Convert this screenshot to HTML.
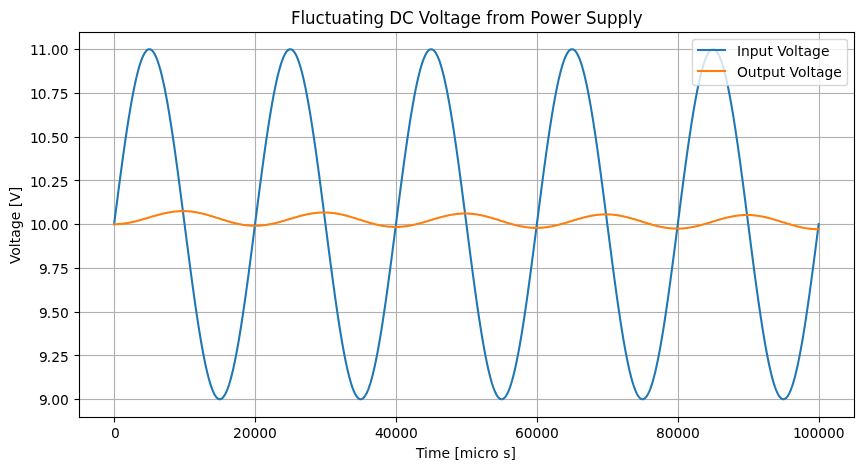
<!DOCTYPE html>
<html lang="en">
<head>
<meta charset="utf-8">
<title>Fluctuating DC Voltage from Power Supply</title>
<style>
html,body{margin:0;padding:0;background:#fff;overflow:hidden}
svg{display:block}
text{font-family:"DejaVu Sans","Liberation Sans",sans-serif;fill:#000;white-space:pre}
.d{fill:none;stroke-width:2.0833;stroke-linejoin:round;stroke-linecap:square}
</style>
</head>
<body>
<svg width="863" height="470" viewBox="0 0 863 470">
<rect width="863" height="470" fill="#fff"/>
<defs><clipPath id="c"><rect x="78.903" y="31.722" width="775" height="385"/></clipPath></defs>
<g fill="#b0b0b0">
<rect x="113" y="32.5" width="1" height="385" fill-opacity="0.06"/><rect x="115" y="32.5" width="1" height="385" fill-opacity="0.06"/><rect x="114" y="32.5" width="1" height="385"/>
<rect x="254" y="32.5" width="1" height="385" fill-opacity="0.06"/><rect x="256" y="32.5" width="1" height="385" fill-opacity="0.06"/><rect x="255" y="32.5" width="1" height="385"/>
<rect x="395" y="32.5" width="1" height="385" fill-opacity="0.06"/><rect x="397" y="32.5" width="1" height="385" fill-opacity="0.06"/><rect x="396" y="32.5" width="1" height="385"/>
<rect x="536" y="32.5" width="1" height="385" fill-opacity="0.06"/><rect x="538" y="32.5" width="1" height="385" fill-opacity="0.06"/><rect x="537" y="32.5" width="1" height="385"/>
<rect x="677" y="32.5" width="1" height="385" fill-opacity="0.06"/><rect x="679" y="32.5" width="1" height="385" fill-opacity="0.06"/><rect x="678" y="32.5" width="1" height="385"/>
<rect x="818" y="32.5" width="1" height="385" fill-opacity="0.06"/><rect x="820" y="32.5" width="1" height="385" fill-opacity="0.06"/><rect x="819" y="32.5" width="1" height="385"/>
</g>
<g fill="#000">
<rect x="113" y="417.5" width="1" height="5" fill-opacity="0.0556"/><rect x="115" y="417.5" width="1" height="5" fill-opacity="0.0556"/><rect x="114" y="417.5" width="1" height="5"/>
<rect x="254" y="417.5" width="1" height="5" fill-opacity="0.0556"/><rect x="256" y="417.5" width="1" height="5" fill-opacity="0.0556"/><rect x="255" y="417.5" width="1" height="5"/>
<rect x="395" y="417.5" width="1" height="5" fill-opacity="0.0556"/><rect x="397" y="417.5" width="1" height="5" fill-opacity="0.0556"/><rect x="396" y="417.5" width="1" height="5"/>
<rect x="536" y="417.5" width="1" height="5" fill-opacity="0.0556"/><rect x="538" y="417.5" width="1" height="5" fill-opacity="0.0556"/><rect x="537" y="417.5" width="1" height="5"/>
<rect x="677" y="417.5" width="1" height="5" fill-opacity="0.0556"/><rect x="679" y="417.5" width="1" height="5" fill-opacity="0.0556"/><rect x="678" y="417.5" width="1" height="5"/>
<rect x="818" y="417.5" width="1" height="5" fill-opacity="0.0556"/><rect x="820" y="417.5" width="1" height="5" fill-opacity="0.0556"/><rect x="819" y="417.5" width="1" height="5"/>
</g>
<g fill="#b0b0b0">
<rect x="79.5" y="398" width="775" height="1" fill-opacity="0.06"/><rect x="79.5" y="400" width="775" height="1" fill-opacity="0.06"/><rect x="79.5" y="399" width="775" height="1"/>
<rect x="79.5" y="354" width="775" height="1" fill-opacity="0.06"/><rect x="79.5" y="356" width="775" height="1" fill-opacity="0.06"/><rect x="79.5" y="355" width="775" height="1"/>
<rect x="79.5" y="311" width="775" height="1" fill-opacity="0.06"/><rect x="79.5" y="313" width="775" height="1" fill-opacity="0.06"/><rect x="79.5" y="312" width="775" height="1"/>
<rect x="79.5" y="267" width="775" height="1" fill-opacity="0.06"/><rect x="79.5" y="269" width="775" height="1" fill-opacity="0.06"/><rect x="79.5" y="268" width="775" height="1"/>
<rect x="79.5" y="223" width="775" height="1" fill-opacity="0.06"/><rect x="79.5" y="225" width="775" height="1" fill-opacity="0.06"/><rect x="79.5" y="224" width="775" height="1"/>
<rect x="79.5" y="179" width="775" height="1" fill-opacity="0.06"/><rect x="79.5" y="181" width="775" height="1" fill-opacity="0.06"/><rect x="79.5" y="180" width="775" height="1"/>
<rect x="79.5" y="136" width="775" height="1" fill-opacity="0.06"/><rect x="79.5" y="138" width="775" height="1" fill-opacity="0.06"/><rect x="79.5" y="137" width="775" height="1"/>
<rect x="79.5" y="92" width="775" height="1" fill-opacity="0.06"/><rect x="79.5" y="94" width="775" height="1" fill-opacity="0.06"/><rect x="79.5" y="93" width="775" height="1"/>
<rect x="79.5" y="48" width="775" height="1" fill-opacity="0.06"/><rect x="79.5" y="50" width="775" height="1" fill-opacity="0.06"/><rect x="79.5" y="49" width="775" height="1"/>
</g>
<g fill="#000">
<rect x="74.5" y="398" width="5" height="1" fill-opacity="0.0556"/><rect x="74.5" y="400" width="5" height="1" fill-opacity="0.0556"/><rect x="74.5" y="399" width="5" height="1"/>
<rect x="74.5" y="354" width="5" height="1" fill-opacity="0.0556"/><rect x="74.5" y="356" width="5" height="1" fill-opacity="0.0556"/><rect x="74.5" y="355" width="5" height="1"/>
<rect x="74.5" y="311" width="5" height="1" fill-opacity="0.0556"/><rect x="74.5" y="313" width="5" height="1" fill-opacity="0.0556"/><rect x="74.5" y="312" width="5" height="1"/>
<rect x="74.5" y="267" width="5" height="1" fill-opacity="0.0556"/><rect x="74.5" y="269" width="5" height="1" fill-opacity="0.0556"/><rect x="74.5" y="268" width="5" height="1"/>
<rect x="74.5" y="223" width="5" height="1" fill-opacity="0.0556"/><rect x="74.5" y="225" width="5" height="1" fill-opacity="0.0556"/><rect x="74.5" y="224" width="5" height="1"/>
<rect x="74.5" y="179" width="5" height="1" fill-opacity="0.0556"/><rect x="74.5" y="181" width="5" height="1" fill-opacity="0.0556"/><rect x="74.5" y="180" width="5" height="1"/>
<rect x="74.5" y="136" width="5" height="1" fill-opacity="0.0556"/><rect x="74.5" y="138" width="5" height="1" fill-opacity="0.0556"/><rect x="74.5" y="137" width="5" height="1"/>
<rect x="74.5" y="92" width="5" height="1" fill-opacity="0.0556"/><rect x="74.5" y="94" width="5" height="1" fill-opacity="0.0556"/><rect x="74.5" y="93" width="5" height="1"/>
<rect x="74.5" y="48" width="5" height="1" fill-opacity="0.0556"/><rect x="74.5" y="50" width="5" height="1" fill-opacity="0.0556"/><rect x="74.5" y="49" width="5" height="1"/>
</g>
<g class="d" clip-path="url(#c)">
<path stroke="#1f77b4" d="M114.13 224.22L114.84 218.72L115.54 213.22L116.25 207.74L116.95 202.27L117.66 196.82L118.36 191.4L119.07 186.01L119.77 180.66L120.48 175.35L121.18 170.09L121.89 164.89L122.59 159.74L123.3 154.66L124 149.64L124.71 144.7L125.41 139.84L126.12 135.06L126.82 130.37L127.53 125.77L128.24 121.27L128.94 116.87L129.65 112.58L130.35 108.4L131.06 104.33L131.76 100.38L132.47 96.55L133.17 92.85L133.88 89.28L134.58 85.85L135.29 82.55L135.99 79.39L136.7 76.37L137.4 73.5L138.11 70.78L138.81 68.21L139.52 65.79L140.22 63.53L140.93 61.43L141.63 59.5L142.34 57.72L143.05 56.11L143.75 54.66L144.46 53.39L145.16 52.28L145.87 51.34L146.57 50.57L147.28 49.97L147.98 49.55L148.69 49.3L149.39 49.22L150.1 49.32L150.8 49.59L151.51 50.03L152.21 50.64L152.92 51.42L153.62 52.38L154.33 53.51L155.03 54.8L155.74 56.26L156.45 57.89L157.15 59.68L157.86 61.64L158.56 63.75L159.27 66.03L159.97 68.46L160.68 71.04L161.38 73.78L162.09 76.67L162.79 79.7L163.5 82.87L164.2 86.18L164.91 89.64L165.61 93.22L166.32 96.93L167.02 100.77L167.73 104.73L168.43 108.81L169.14 113L169.84 117.31L170.55 121.72L171.26 126.23L171.96 130.83L172.67 135.53L173.37 140.32L174.08 145.19L174.78 150.14L175.49 155.16L176.19 160.25L176.9 165.4L177.6 170.62L178.31 175.88L179.01 181.19L179.72 186.55L180.42 191.94L181.13 197.36L181.83 202.81L182.54 208.28L183.24 213.77L183.95 219.27L184.66 224.77L185.36 230.27L186.07 235.77L186.77 241.26L187.48 246.72L188.18 252.17L188.89 257.59L189.59 262.97L190.3 268.32L191 273.62L191.71 278.88L192.41 284.08L193.12 289.22L193.82 294.29L194.53 299.3L195.23 304.23L195.94 309.09L196.64 313.86L197.35 318.54L198.05 323.13L198.76 327.62L199.47 332.01L200.17 336.29L200.88 340.46L201.58 344.51L202.29 348.45L202.99 352.27L203.7 355.95L204.4 359.51L205.11 362.93L205.81 366.22L206.52 369.37L207.22 372.37L207.93 375.22L208.63 377.93L209.34 380.48L210.04 382.88L210.75 385.13L211.45 387.21L212.16 389.13L212.87 390.89L213.57 392.49L214.28 393.92L214.98 395.18L215.69 396.27L216.39 397.19L217.1 397.94L217.8 398.52L218.51 398.93L219.21 399.16L219.92 399.22L220.62 399.11L221.33 398.82L222.03 398.36L222.74 397.73L223.44 396.93L224.15 395.96L224.85 394.82L225.56 393.51L226.26 392.03L226.97 390.38L227.68 388.57L228.38 386.6L229.09 384.47L229.79 382.18L230.5 379.73L231.2 377.13L231.91 374.38L232.61 371.48L233.32 368.44L234.02 365.25L234.73 361.92L235.43 358.46L236.14 354.86L236.84 351.13L237.55 347.28L238.25 343.31L238.96 339.22L239.66 335.02L240.37 330.7L241.08 326.28L241.78 321.76L242.49 317.14L243.19 312.44L243.9 307.64L244.6 302.76L245.31 297.81L246.01 292.78L246.72 287.68L247.42 282.52L248.13 277.3L248.83 272.04L249.54 266.72L250.24 261.36L250.95 255.96L251.65 250.54L252.36 245.09L253.06 239.61L253.77 234.12L254.47 228.62L255.18 223.12L255.89 217.62L256.59 212.12L257.3 206.64L258 201.18L258.71 195.73L259.41 190.32L260.12 184.94L260.82 179.59L261.53 174.3L262.23 169.05L262.94 163.85L263.64 158.72L264.35 153.65L265.05 148.65L265.76 143.72L266.46 138.88L267.17 134.11L267.87 129.44L268.58 124.86L269.29 120.38L269.99 116L270.7 111.73L271.4 107.57L272.11 103.53L272.81 99.61L273.52 95.8L274.22 92.13L274.93 88.59L275.63 85.18L276.34 81.9L277.04 78.77L277.75 75.78L278.45 72.94L279.16 70.25L279.86 67.71L280.57 65.33L281.27 63.1L281.98 61.03L282.68 59.13L283.39 57.38L284.1 55.81L284.8 54.39L285.51 53.15L286.21 52.08L286.92 51.17L287.62 50.44L288.33 49.88L289.03 49.49L289.74 49.27L290.44 49.23L291.15 49.36L291.85 49.66L292.56 50.14L293.26 50.78L293.97 51.6L294.67 52.59L295.38 53.75L296.08 55.08L296.79 56.57L297.5 58.23L298.2 60.06L298.91 62.05L299.61 64.2L300.32 66.5L301.02 68.96L301.73 71.58L302.43 74.35L303.14 77.26L303.84 80.32L304.55 83.52L305.25 86.86L305.96 90.34L306.66 93.95L307.37 97.69L308.07 101.55L308.78 105.54L309.48 109.64L310.19 113.86L310.89 118.18L311.6 122.61L312.31 127.14L313.01 131.77L313.72 136.48L314.42 141.29L315.13 146.17L315.83 151.14L316.54 156.17L317.24 161.28L317.95 166.44L318.65 171.66L319.36 176.94L320.06 182.26L320.77 187.62L321.47 193.02L322.18 198.45L322.88 203.91L323.59 209.38L324.29 214.87L325 220.37L325.71 225.87L326.41 231.37L327.12 236.87L327.82 242.35L328.53 247.81L329.23 253.25L329.94 258.67L330.64 264.04L331.35 269.38L332.05 274.68L332.76 279.92L333.46 285.11L334.17 290.24L334.87 295.3L335.58 300.29L336.28 305.21L336.99 310.05L337.69 314.8L338.4 319.46L339.11 324.03L339.81 328.5L340.52 332.87L341.22 337.13L341.93 341.28L342.63 345.31L343.34 349.22L344.04 353.01L344.75 356.67L345.45 360.21L346.16 363.6L346.86 366.86L347.57 369.98L348.27 372.95L348.98 375.78L349.68 378.45L350.39 380.98L351.09 383.35L351.8 385.56L352.5 387.61L353.21 389.5L353.92 391.23L354.62 392.79L355.33 394.18L356.03 395.41L356.74 396.47L357.44 397.35L358.15 398.07L358.85 398.62L359.56 398.99L360.26 399.19L360.97 399.21L361.67 399.06L362.38 398.74L363.08 398.25L363.79 397.59L364.49 396.75L365.2 395.74L365.9 394.57L366.61 393.22L367.32 391.71L368.02 390.03L368.73 388.19L369.43 386.19L370.14 384.03L370.84 381.7L371.55 379.23L372.25 376.6L372.96 373.81L373.66 370.88L374.37 367.81L375.07 364.59L375.78 361.24L376.48 357.75L377.19 354.13L377.89 350.37L378.6 346.5L379.3 342.5L380.01 338.39L380.71 334.16L381.42 329.83L382.13 325.39L382.83 320.85L383.54 316.21L384.24 311.48L384.95 306.67L385.65 301.78L386.36 296.81L387.06 291.76L387.77 286.65L388.47 281.48L389.18 276.26L389.88 270.98L390.59 265.65L391.29 260.28L392 254.88L392.7 249.45L393.41 243.99L394.11 238.51L394.82 233.02L395.53 227.52L396.23 222.02L396.94 216.52L397.64 211.03L398.35 205.55L399.05 200.08L399.76 194.65L400.46 189.24L401.17 183.86L401.87 178.53L402.58 173.24L403.28 168L403.99 162.82L404.69 157.7L405.4 152.64L406.1 147.66L406.81 142.75L407.51 137.92L408.22 133.17L408.92 128.52L409.63 123.96L410.34 119.5L411.04 115.14L411.75 110.89L412.45 106.76L413.16 102.74L413.86 98.84L414.57 95.06L415.27 91.41L415.98 87.89L416.68 84.51L417.39 81.27L418.09 78.16L418.8 75.2L419.5 72.39L420.21 69.73L420.91 67.22L421.62 64.87L422.32 62.68L423.03 60.64L423.74 58.77L424.44 57.05L425.15 55.51L425.85 54.13L426.56 52.92L427.26 51.88L427.97 51.01L428.67 50.31L429.38 49.78L430.08 49.43L430.79 49.25L431.49 49.24L432.2 49.4L432.9 49.74L433.61 50.25L434.31 50.93L435.02 51.79L435.72 52.81L436.43 54L437.13 55.36L437.84 56.89L438.55 58.59L439.25 60.44L439.96 62.46L440.66 64.64L441.37 66.98L442.07 69.47L442.78 72.12L443.48 74.92L444.19 77.86L444.89 80.95L445.6 84.18L446.3 87.55L447.01 91.05L447.71 94.69L448.42 98.45L449.12 102.34L449.83 106.35L450.53 110.47L451.24 114.71L451.95 119.06L452.65 123.51L453.36 128.06L454.06 132.7L454.77 137.44L455.47 142.26L456.18 147.16L456.88 152.14L457.59 157.19L458.29 162.3L459 167.48L459.7 172.72L460.41 178L461.11 183.33L461.82 188.7L462.52 194.1L463.23 199.54L463.93 205L464.64 210.48L465.34 215.97L466.05 221.47L466.76 226.97L467.46 232.47L468.17 237.97L468.87 243.44L469.58 248.9L470.28 254.34L470.99 259.75L471.69 265.12L472.4 270.45L473.1 275.73L473.81 280.96L474.51 286.14L475.22 291.26L475.92 296.31L476.63 301.28L477.33 306.19L478.04 311.01L478.74 315.74L479.45 320.39L480.16 324.94L480.86 329.39L481.57 333.73L482.27 337.97L482.98 342.1L483.68 346.1L484.39 349.99L485.09 353.76L485.8 357.39L486.5 360.9L487.21 364.26L487.91 367.5L488.62 370.58L489.32 373.53L490.03 376.32L490.73 378.97L491.44 381.46L492.14 383.8L492.85 385.98L493.55 388L494.26 389.86L494.97 391.55L495.67 393.08L496.38 394.44L497.08 395.63L497.79 396.66L498.49 397.51L499.2 398.19L499.9 398.7L500.61 399.04L501.31 399.2L502.02 399.2L502.72 399.01L503.43 398.66L504.13 398.13L504.84 397.43L505.54 396.56L506.25 395.52L506.95 394.31L507.66 392.93L508.37 391.39L509.07 389.68L509.78 387.81L510.48 385.77L511.19 383.57L511.89 381.22L512.6 378.71L513.3 376.05L514.01 373.24L514.71 370.28L515.42 367.18L516.12 363.93L516.83 360.55L517.53 357.03L518.24 353.39L518.94 349.61L519.65 345.71L520.35 341.69L521.06 337.55L521.76 333.3L522.47 328.95L523.18 324.49L523.88 319.93L524.59 315.27L525.29 310.53L526 305.7L526.7 300.79L527.41 295.8L528.11 290.75L528.82 285.62L529.52 280.44L530.23 275.2L530.93 269.91L531.64 264.58L532.34 259.21L533.05 253.8L533.75 248.36L534.46 242.9L535.16 237.42L535.87 231.92L536.58 226.42L537.28 220.92L537.99 215.42L538.69 209.93L539.4 204.45L540.1 199L540.81 193.56L541.51 188.16L542.22 182.79L542.92 177.47L543.63 172.19L544.33 166.96L545.04 161.79L545.74 156.68L546.45 151.64L547.15 146.67L547.86 141.77L548.56 136.96L549.27 132.23L549.97 127.6L550.68 123.06L551.39 118.62L552.09 114.28L552.8 110.06L553.5 105.94L554.21 101.95L554.91 98.07L555.62 94.32L556.32 90.7L557.03 87.21L557.73 83.85L558.44 80.63L559.14 77.56L559.85 74.63L560.55 71.85L561.26 69.22L561.96 66.74L562.67 64.42L563.37 62.26L564.08 60.25L564.79 58.41L565.49 56.73L566.2 55.22L566.9 53.88L567.61 52.7L568.31 51.69L569.02 50.86L569.72 50.19L570.43 49.7L571.13 49.38L571.84 49.23L572.54 49.26L573.25 49.46L573.95 49.83L574.66 50.37L575.36 51.09L576.07 51.98L576.77 53.03L577.48 54.26L578.19 55.66L578.89 57.22L579.6 58.95L580.3 60.84L581.01 62.89L581.71 65.1L582.42 67.47L583.12 69.99L583.83 72.67L584.53 75.49L585.24 78.47L585.94 81.58L586.65 84.84L587.35 88.24L588.06 91.77L588.76 95.43L589.47 99.22L590.17 103.13L590.88 107.17L591.58 111.31L592.29 115.57L593 119.94L593.7 124.41L594.41 128.98L595.11 133.64L595.82 138.4L596.52 143.23L597.23 148.15L597.93 153.14L598.64 158.21L599.34 163.34L600.05 168.52L600.75 173.77L601.46 179.06L602.16 184.4L602.87 189.78L603.57 195.19L604.28 200.63L604.98 206.09L605.69 211.58L606.4 217.07L607.1 222.57L607.81 228.07L608.51 233.57L609.22 239.06L609.92 244.54L610.63 249.99L611.33 255.42L612.04 260.82L612.74 266.18L613.45 271.51L614.15 276.78L614.86 282L615.56 287.17L616.27 292.27L616.97 297.31L617.68 302.27L618.38 307.16L619.09 311.96L619.79 316.68L620.5 321.3L621.21 325.83L621.91 330.26L622.62 334.59L623.32 338.8L624.03 342.91L624.73 346.89L625.44 350.75L626.14 354.49L626.85 358.1L627.55 361.58L628.26 364.92L628.96 368.12L629.67 371.18L630.37 374.1L631.08 376.87L631.78 379.48L632.49 381.94L633.19 384.25L633.9 386.4L634.61 388.38L635.31 390.21L636.02 391.87L636.72 393.37L637.43 394.69L638.13 395.85L638.84 396.84L639.54 397.66L640.25 398.31L640.95 398.78L641.66 399.09L642.36 399.22L643.07 399.17L643.77 398.96L644.48 398.57L645.18 398.01L645.89 397.27L646.59 396.37L647.3 395.29L648 394.05L648.71 392.64L649.42 391.06L650.12 389.32L650.83 387.41L651.53 385.34L652.24 383.12L652.94 380.73L653.65 378.19L654.35 375.5L655.06 372.66L655.76 369.67L656.47 366.54L657.17 363.27L657.88 359.86L658.58 356.31L659.29 352.64L659.99 348.84L660.7 344.91L661.4 340.87L662.11 336.71L662.82 332.44L663.52 328.06L664.23 323.58L664.93 319L665.64 314.33L666.34 309.57L667.05 304.72L667.75 299.8L668.46 294.8L669.16 289.73L669.87 284.59L670.57 279.4L671.28 274.15L671.98 268.85L672.69 263.51L673.39 258.13L674.1 252.71L674.8 247.27L675.51 241.8L676.21 236.32L676.92 230.82L677.63 225.32L678.33 219.82L679.04 214.32L679.74 208.83L680.45 203.36L681.15 197.91L681.86 192.48L682.56 187.08L683.27 181.73L683.97 176.41L684.68 171.14L685.38 165.92L686.09 160.76L686.79 155.67L687.5 150.64L688.2 145.68L688.91 140.8L689.61 136.01L690.32 131.3L691.03 126.68L691.73 122.16L692.44 117.74L693.14 113.43L693.85 109.22L694.55 105.13L695.26 101.16L695.96 97.31L696.67 93.58L697.37 89.99L698.08 86.52L698.78 83.2L699.49 80.01L700.19 76.96L700.9 74.06L701.6 71.31L702.31 68.71L703.01 66.26L703.72 63.97L704.42 61.84L705.13 59.87L705.84 58.06L706.54 56.42L707.25 54.94L707.95 53.63L708.66 52.48L709.36 51.51L710.07 50.71L710.77 50.08L711.48 49.62L712.18 49.34L712.89 49.22L713.59 49.28L714.3 49.52L715 49.92L715.71 50.5L716.41 51.25L717.12 52.18L717.82 53.27L718.53 54.53L719.24 55.96L719.94 57.55L720.65 59.31L721.35 61.23L722.06 63.32L722.76 65.56L723.47 67.96L724.17 70.51L724.88 73.22L725.58 76.08L726.29 79.08L726.99 82.22L727.7 85.51L728.4 88.93L729.11 92.49L729.81 96.18L730.52 99.99L731.22 103.93L731.93 107.99L732.63 112.16L733.34 116.44L734.05 120.83L734.75 125.32L735.46 129.9L736.16 134.59L736.87 139.36L737.57 144.21L738.28 149.14L738.98 154.15L739.69 159.23L740.39 164.37L741.1 169.57L741.8 174.82L742.51 180.13L743.21 185.47L743.92 190.86L744.62 196.28L745.33 201.72L746.03 207.19L746.74 212.67L747.45 218.17L748.15 223.67L748.86 229.17L749.56 234.67L750.27 240.16L750.97 245.63L751.68 251.08L752.38 256.51L753.09 261.9L753.79 267.25L754.5 272.56L755.2 277.83L755.91 283.04L756.61 288.19L757.32 293.28L758.02 298.31L758.73 303.25L759.43 308.12L760.14 312.91L760.84 317.61L761.55 322.22L762.26 326.73L762.96 331.14L763.67 335.44L764.37 339.63L765.08 343.71L765.78 347.67L766.49 351.51L767.19 355.23L767.9 358.81L768.6 362.26L769.31 365.57L770.01 368.75L770.72 371.78L771.42 374.66L772.13 377.4L772.83 379.99L773.54 382.42L774.24 384.69L774.95 386.81L775.66 388.76L776.36 390.55L777.07 392.18L777.77 393.64L778.48 394.94L779.18 396.06L779.89 397.02L780.59 397.81L781.3 398.42L782 398.86L782.71 399.13L783.41 399.22L784.12 399.14L784.82 398.89L785.53 398.47L786.23 397.87L786.94 397.11L787.64 396.17L788.35 395.06L789.05 393.78L789.76 392.34L790.47 390.73L791.17 388.95L791.88 387.01L792.58 384.91L793.29 382.65L793.99 380.24L794.7 377.67L795.4 374.94L796.11 372.07L796.81 369.06L797.52 365.9L798.22 362.6L798.93 359.16L799.63 355.59L800.34 351.89L801.04 348.06L801.75 344.11L802.45 340.05L803.16 335.86L803.87 331.57L804.57 327.17L805.28 322.67L805.98 318.08L806.69 313.39L807.39 308.61L808.1 303.74L808.8 298.8L809.51 293.79L810.21 288.71L810.92 283.56L811.62 278.35L812.33 273.09L813.03 267.79L813.74 262.43L814.44 257.05L815.15 251.63L815.85 246.18L816.56 240.71L817.27 235.22L817.97 229.72L818.68 224.22"/>
<path stroke="#ff7f0e" d="M114.13 224.22L114.84 224.22L115.54 224.21L116.25 224.19L116.95 224.17L117.66 224.14L118.36 224.1L119.07 224.05L119.77 224L120.48 223.95L121.18 223.88L121.89 223.81L122.59 223.73L123.3 223.65L124 223.56L124.71 223.47L125.41 223.37L126.12 223.26L126.82 223.14L127.53 223.03L128.24 222.9L128.94 222.77L129.65 222.64L130.35 222.5L131.06 222.35L131.76 222.2L132.47 222.05L133.17 221.89L133.88 221.72L134.58 221.56L135.29 221.38L135.99 221.21L136.7 221.03L137.4 220.85L138.11 220.66L138.81 220.47L139.52 220.28L140.22 220.08L140.93 219.89L141.63 219.69L142.34 219.49L143.05 219.28L143.75 219.08L144.46 218.87L145.16 218.66L145.87 218.46L146.57 218.25L147.28 218.04L147.98 217.83L148.69 217.61L149.39 217.4L150.1 217.19L150.8 216.98L151.51 216.78L152.21 216.57L152.92 216.36L153.62 216.15L154.33 215.95L155.03 215.75L155.74 215.55L156.45 215.35L157.15 215.15L157.86 214.96L158.56 214.77L159.27 214.58L159.97 214.4L160.68 214.22L161.38 214.04L162.09 213.87L162.79 213.7L163.5 213.53L164.2 213.37L164.91 213.21L165.61 213.06L166.32 212.91L167.02 212.77L167.73 212.63L168.43 212.5L169.14 212.37L169.84 212.25L170.55 212.14L171.26 212.03L171.96 211.92L172.67 211.82L173.37 211.73L174.08 211.64L174.78 211.56L175.49 211.49L176.19 211.42L176.9 211.36L177.6 211.31L178.31 211.26L179.01 211.22L179.72 211.19L180.42 211.16L181.13 211.14L181.83 211.12L182.54 211.12L183.24 211.12L183.95 211.12L184.66 211.14L185.36 211.16L186.07 211.18L186.77 211.22L187.48 211.26L188.18 211.31L188.89 211.36L189.59 211.42L190.3 211.49L191 211.57L191.71 211.65L192.41 211.73L193.12 211.83L193.82 211.93L194.53 212.03L195.23 212.15L195.94 212.26L196.64 212.39L197.35 212.52L198.05 212.65L198.76 212.79L199.47 212.94L200.17 213.09L200.88 213.25L201.58 213.41L202.29 213.58L202.99 213.75L203.7 213.92L204.4 214.1L205.11 214.29L205.81 214.48L206.52 214.67L207.22 214.86L207.93 215.06L208.63 215.26L209.34 215.47L210.04 215.68L210.75 215.89L211.45 216.1L212.16 216.31L212.87 216.53L213.57 216.75L214.28 216.97L214.98 217.19L215.69 217.42L216.39 217.64L217.1 217.87L217.8 218.09L218.51 218.32L219.21 218.54L219.92 218.77L220.62 218.99L221.33 219.22L222.03 219.44L222.74 219.67L223.44 219.89L224.15 220.11L224.85 220.33L225.56 220.55L226.26 220.76L226.97 220.98L227.68 221.19L228.38 221.39L229.09 221.6L229.79 221.8L230.5 222L231.2 222.2L231.91 222.39L232.61 222.58L233.32 222.76L234.02 222.94L234.73 223.12L235.43 223.29L236.14 223.46L236.84 223.62L237.55 223.77L238.25 223.93L238.96 224.07L239.66 224.21L240.37 224.35L241.08 224.48L241.78 224.61L242.49 224.72L243.19 224.84L243.9 224.94L244.6 225.04L245.31 225.14L246.01 225.23L246.72 225.31L247.42 225.38L248.13 225.45L248.83 225.51L249.54 225.57L250.24 225.61L250.95 225.66L251.65 225.69L252.36 225.72L253.06 225.74L253.77 225.75L254.47 225.76L255.18 225.76L255.89 225.75L256.59 225.74L257.3 225.72L258 225.69L258.71 225.66L259.41 225.62L260.12 225.57L260.82 225.51L261.53 225.45L262.23 225.39L262.94 225.31L263.64 225.23L264.35 225.15L265.05 225.05L265.76 224.96L266.46 224.85L267.17 224.74L267.87 224.62L268.58 224.5L269.29 224.37L269.99 224.24L270.7 224.1L271.4 223.96L272.11 223.81L272.81 223.66L273.52 223.5L274.22 223.34L274.93 223.17L275.63 223L276.34 222.83L277.04 222.65L277.75 222.47L278.45 222.28L279.16 222.1L279.86 221.9L280.57 221.71L281.27 221.51L281.98 221.31L282.68 221.11L283.39 220.91L284.1 220.7L284.8 220.5L285.51 220.29L286.21 220.08L286.92 219.87L287.62 219.66L288.33 219.44L289.03 219.23L289.74 219.02L290.44 218.81L291.15 218.59L291.85 218.38L292.56 218.17L293.26 217.96L293.97 217.75L294.67 217.55L295.38 217.34L296.08 217.14L296.79 216.94L297.5 216.74L298.2 216.54L298.91 216.34L299.61 216.15L300.32 215.96L301.02 215.78L301.73 215.6L302.43 215.42L303.14 215.24L303.84 215.07L304.55 214.91L305.25 214.74L305.96 214.59L306.66 214.43L307.37 214.29L308.07 214.14L308.78 214L309.48 213.87L310.19 213.74L310.89 213.62L311.6 213.5L312.31 213.39L313.01 213.29L313.72 213.19L314.42 213.1L315.13 213.01L315.83 212.93L316.54 212.86L317.24 212.79L317.95 212.73L318.65 212.67L319.36 212.62L320.06 212.58L320.77 212.55L321.47 212.52L322.18 212.5L322.88 212.48L323.59 212.48L324.29 212.48L325 212.48L325.71 212.5L326.41 212.52L327.12 212.54L327.82 212.58L328.53 212.62L329.23 212.67L329.94 212.72L330.64 212.78L331.35 212.85L332.05 212.92L332.76 213L333.46 213.09L334.17 213.18L334.87 213.28L335.58 213.39L336.28 213.5L336.99 213.62L337.69 213.74L338.4 213.87L339.11 214.01L339.81 214.15L340.52 214.29L341.22 214.44L341.93 214.6L342.63 214.76L343.34 214.93L344.04 215.1L344.75 215.27L345.45 215.45L346.16 215.63L346.86 215.82L347.57 216.01L348.27 216.2L348.98 216.4L349.68 216.6L350.39 216.81L351.09 217.01L351.8 217.22L352.5 217.44L353.21 217.65L353.92 217.87L354.62 218.08L355.33 218.3L356.03 218.52L356.74 218.75L357.44 218.97L358.15 219.19L358.85 219.42L359.56 219.64L360.26 219.86L360.97 220.09L361.67 220.31L362.38 220.54L363.08 220.76L363.79 220.98L364.49 221.2L365.2 221.42L365.9 221.64L366.61 221.85L367.32 222.07L368.02 222.28L368.73 222.49L369.43 222.69L370.14 222.89L370.84 223.09L371.55 223.29L372.25 223.48L372.96 223.67L373.66 223.86L374.37 224.04L375.07 224.22L375.78 224.39L376.48 224.56L377.19 224.73L377.89 224.89L378.6 225.04L379.3 225.19L380.01 225.33L380.71 225.47L381.42 225.61L382.13 225.73L382.83 225.86L383.54 225.97L384.24 226.08L384.95 226.18L385.65 226.28L386.36 226.37L387.06 226.46L387.77 226.54L388.47 226.61L389.18 226.67L389.88 226.73L390.59 226.79L391.29 226.83L392 226.87L392.7 226.9L393.41 226.93L394.11 226.94L394.82 226.95L395.53 226.96L396.23 226.96L396.94 226.95L397.64 226.93L398.35 226.91L399.05 226.88L399.76 226.84L400.46 226.8L401.17 226.75L401.87 226.69L402.58 226.62L403.28 226.55L403.99 226.48L404.69 226.4L405.4 226.31L406.1 226.21L406.81 226.11L407.51 226L408.22 225.89L408.92 225.77L409.63 225.65L410.34 225.52L411.04 225.38L411.75 225.24L412.45 225.09L413.16 224.94L413.86 224.79L414.57 224.63L415.27 224.46L415.98 224.3L416.68 224.12L417.39 223.95L418.09 223.77L418.8 223.58L419.5 223.4L420.21 223.2L420.91 223.01L421.62 222.81L422.32 222.62L423.03 222.41L423.74 222.21L424.44 222.01L425.15 221.8L425.85 221.59L426.56 221.38L427.26 221.17L427.97 220.96L428.67 220.74L429.38 220.53L430.08 220.32L430.79 220.1L431.49 219.89L432.2 219.68L432.9 219.46L433.61 219.25L434.31 219.04L435.02 218.83L435.72 218.62L436.43 218.41L437.13 218.21L437.84 218.01L438.55 217.81L439.25 217.61L439.96 217.41L440.66 217.22L441.37 217.03L442.07 216.85L442.78 216.66L443.48 216.48L444.19 216.31L444.89 216.14L445.6 215.97L446.3 215.81L447.01 215.65L447.71 215.5L448.42 215.35L449.12 215.2L449.83 215.07L450.53 214.93L451.24 214.8L451.95 214.68L452.65 214.56L453.36 214.45L454.06 214.35L454.77 214.25L455.47 214.16L456.18 214.07L456.88 213.99L457.59 213.91L458.29 213.85L459 213.79L459.7 213.73L460.41 213.68L461.11 213.64L461.82 213.61L462.52 213.58L463.23 213.56L463.93 213.54L464.64 213.54L465.34 213.54L466.05 213.54L466.76 213.56L467.46 213.58L468.17 213.6L468.87 213.64L469.58 213.68L470.28 213.73L470.99 213.78L471.69 213.84L472.4 213.91L473.1 213.98L473.81 214.06L474.51 214.15L475.22 214.24L475.92 214.34L476.63 214.45L477.33 214.56L478.04 214.68L478.74 214.8L479.45 214.93L480.16 215.06L480.86 215.2L481.57 215.35L482.27 215.5L482.98 215.66L483.68 215.82L484.39 215.98L485.09 216.15L485.8 216.33L486.5 216.51L487.21 216.69L487.91 216.87L488.62 217.07L489.32 217.26L490.03 217.46L490.73 217.66L491.44 217.86L492.14 218.07L492.85 218.27L493.55 218.49L494.26 218.7L494.97 218.91L495.67 219.13L496.38 219.35L497.08 219.57L497.79 219.79L498.49 220.01L499.2 220.23L499.9 220.46L500.61 220.68L501.31 220.9L502.02 221.13L502.72 221.35L503.43 221.57L504.13 221.79L504.84 222.01L505.54 222.23L506.25 222.45L506.95 222.66L507.66 222.88L508.37 223.09L509.07 223.3L509.78 223.51L510.48 223.71L511.19 223.91L511.89 224.11L512.6 224.3L513.3 224.5L514.01 224.68L514.71 224.87L515.42 225.05L516.12 225.22L516.83 225.39L517.53 225.56L518.24 225.72L518.94 225.88L519.65 226.03L520.35 226.18L521.06 226.32L521.76 226.46L522.47 226.59L523.18 226.71L523.88 226.83L524.59 226.95L525.29 227.05L526 227.16L526.7 227.25L527.41 227.34L528.11 227.42L528.82 227.5L529.52 227.57L530.23 227.63L530.93 227.69L531.64 227.74L532.34 227.78L533.05 227.81L533.75 227.84L534.46 227.87L535.16 227.88L535.87 227.89L536.58 227.89L537.28 227.89L537.99 227.87L538.69 227.86L539.4 227.83L540.1 227.8L540.81 227.76L541.51 227.71L542.22 227.66L542.92 227.6L543.63 227.53L544.33 227.46L545.04 227.38L545.74 227.3L546.45 227.2L547.15 227.11L547.86 227L548.56 226.89L549.27 226.78L549.97 226.66L550.68 226.53L551.39 226.4L552.09 226.26L552.8 226.12L553.5 225.97L554.21 225.82L554.91 225.66L555.62 225.5L556.32 225.33L557.03 225.16L557.73 224.99L558.44 224.81L559.14 224.63L559.85 224.44L560.55 224.25L561.26 224.06L561.96 223.86L562.67 223.67L563.37 223.47L564.08 223.26L564.79 223.06L565.49 222.85L566.2 222.64L566.9 222.43L567.61 222.22L568.31 222.01L569.02 221.79L569.72 221.58L570.43 221.37L571.13 221.15L571.84 220.94L572.54 220.72L573.25 220.51L573.95 220.29L574.66 220.08L575.36 219.87L576.07 219.66L576.77 219.45L577.48 219.24L578.19 219.04L578.89 218.83L579.6 218.63L580.3 218.43L581.01 218.24L581.71 218.04L582.42 217.85L583.12 217.67L583.83 217.49L584.53 217.31L585.24 217.13L585.94 216.96L586.65 216.79L587.35 216.63L588.06 216.47L588.76 216.32L589.47 216.17L590.17 216.02L590.88 215.89L591.58 215.75L592.29 215.62L593 215.5L593.7 215.39L594.41 215.27L595.11 215.17L595.82 215.07L596.52 214.98L597.23 214.89L597.93 214.81L598.64 214.74L599.34 214.67L600.05 214.61L600.75 214.55L601.46 214.51L602.16 214.47L602.87 214.43L603.57 214.4L604.28 214.38L604.98 214.37L605.69 214.36L606.4 214.36L607.1 214.37L607.81 214.38L608.51 214.4L609.22 214.43L609.92 214.46L610.63 214.51L611.33 214.55L612.04 214.61L612.74 214.67L613.45 214.74L614.15 214.81L614.86 214.89L615.56 214.98L616.27 215.07L616.97 215.17L617.68 215.28L618.38 215.39L619.09 215.51L619.79 215.63L620.5 215.76L621.21 215.9L621.91 216.04L622.62 216.18L623.32 216.33L624.03 216.49L624.73 216.65L625.44 216.81L626.14 216.98L626.85 217.16L627.55 217.34L628.26 217.52L628.96 217.7L629.67 217.89L630.37 218.09L631.08 218.29L631.78 218.49L632.49 218.69L633.19 218.89L633.9 219.1L634.61 219.31L635.31 219.52L636.02 219.74L636.72 219.96L637.43 220.17L638.13 220.39L638.84 220.61L639.54 220.83L640.25 221.05L640.95 221.28L641.66 221.5L642.36 221.72L643.07 221.94L643.77 222.16L644.48 222.39L645.18 222.61L645.89 222.82L646.59 223.04L647.3 223.26L648 223.47L648.71 223.68L649.42 223.89L650.12 224.1L650.83 224.31L651.53 224.51L652.24 224.71L652.94 224.91L653.65 225.1L654.35 225.29L655.06 225.48L655.76 225.66L656.47 225.84L657.17 226.01L657.88 226.18L658.58 226.35L659.29 226.51L659.99 226.66L660.7 226.81L661.4 226.96L662.11 227.1L662.82 227.23L663.52 227.36L664.23 227.48L664.93 227.6L665.64 227.71L666.34 227.82L667.05 227.92L667.75 228.01L668.46 228.1L669.16 228.18L669.87 228.25L670.57 228.32L671.28 228.38L671.98 228.43L672.69 228.48L673.39 228.52L674.1 228.55L674.8 228.58L675.51 228.6L676.21 228.61L676.92 228.62L677.63 228.62L678.33 228.61L679.04 228.6L679.74 228.57L680.45 228.55L681.15 228.51L681.86 228.47L682.56 228.42L683.27 228.37L683.97 228.3L684.68 228.24L685.38 228.16L686.09 228.08L686.79 227.99L687.5 227.9L688.2 227.8L688.91 227.69L689.61 227.58L690.32 227.47L691.03 227.34L691.73 227.21L692.44 227.08L693.14 226.94L693.85 226.8L694.55 226.65L695.26 226.49L695.96 226.33L696.67 226.17L697.37 226L698.08 225.83L698.78 225.65L699.49 225.47L700.19 225.29L700.9 225.1L701.6 224.91L702.31 224.72L703.01 224.52L703.72 224.32L704.42 224.12L705.13 223.91L705.84 223.71L706.54 223.5L707.25 223.29L707.95 223.08L708.66 222.87L709.36 222.65L710.07 222.44L710.77 222.22L711.48 222.01L712.18 221.79L712.89 221.58L713.59 221.36L714.3 221.14L715 220.93L715.71 220.72L716.41 220.5L717.12 220.29L717.82 220.08L718.53 219.88L719.24 219.67L719.94 219.47L720.65 219.27L721.35 219.07L722.06 218.87L722.76 218.68L723.47 218.49L724.17 218.3L724.88 218.12L725.58 217.94L726.29 217.76L726.99 217.59L727.7 217.42L728.4 217.26L729.11 217.1L729.81 216.95L730.52 216.8L731.22 216.66L731.93 216.52L732.63 216.39L733.34 216.26L734.05 216.14L734.75 216.02L735.46 215.91L736.16 215.8L736.87 215.71L737.57 215.61L738.28 215.53L738.98 215.45L739.69 215.37L740.39 215.31L741.1 215.25L741.8 215.19L742.51 215.14L743.21 215.1L743.92 215.07L744.62 215.04L745.33 215.02L746.03 215.01L746.74 215L747.45 215L748.15 215.01L748.86 215.03L749.56 215.05L750.27 215.08L750.97 215.11L751.68 215.15L752.38 215.2L753.09 215.26L753.79 215.32L754.5 215.39L755.2 215.46L755.91 215.54L756.61 215.63L757.32 215.72L758.02 215.82L758.73 215.93L759.43 216.04L760.14 216.16L760.84 216.28L761.55 216.41L762.26 216.55L762.96 216.69L763.67 216.83L764.37 216.99L765.08 217.14L765.78 217.3L766.49 217.47L767.19 217.64L767.9 217.81L768.6 217.99L769.31 218.17L770.01 218.36L770.72 218.55L771.42 218.74L772.13 218.94L772.83 219.14L773.54 219.34L774.24 219.55L774.95 219.75L775.66 219.97L776.36 220.18L777.07 220.39L777.77 220.61L778.48 220.82L779.18 221.04L779.89 221.26L780.59 221.48L781.3 221.7L782 221.92L782.71 222.15L783.41 222.37L784.12 222.59L784.82 222.81L785.53 223.03L786.23 223.25L786.94 223.47L787.64 223.68L788.35 223.9L789.05 224.11L789.76 224.32L790.47 224.53L791.17 224.74L791.88 224.94L792.58 225.14L793.29 225.34L793.99 225.54L794.7 225.73L795.4 225.92L796.11 226.1L796.81 226.28L797.52 226.46L798.22 226.63L798.93 226.8L799.63 226.96L800.34 227.12L801.04 227.27L801.75 227.42L802.45 227.57L803.16 227.7L803.87 227.84L804.57 227.96L805.28 228.09L805.98 228.2L806.69 228.31L807.39 228.41L808.1 228.51L808.8 228.6L809.51 228.69L810.21 228.77L810.92 228.84L811.62 228.9L812.33 228.96L813.03 229.01L813.74 229.06L814.44 229.1L815.15 229.13L815.85 229.15L816.56 229.17L817.27 229.18L817.97 229.19L818.68 229.18"/>
</g>
<g fill="#000">
<rect x="78" y="32" width="1" height="386" fill-opacity="0.0556"/><rect x="80" y="32" width="1" height="386" fill-opacity="0.0556"/><rect x="79" y="31" width="1" height="388" fill-opacity="0.0556"/><rect x="79" y="32" width="1" height="386"/>
<rect x="853" y="32" width="1" height="386" fill-opacity="0.0556"/><rect x="855" y="32" width="1" height="386" fill-opacity="0.0556"/><rect x="854" y="31" width="1" height="388" fill-opacity="0.0556"/><rect x="854" y="32" width="1" height="386"/>
<rect x="79" y="416" width="776" height="1" fill-opacity="0.0556"/><rect x="79" y="418" width="776" height="1" fill-opacity="0.0556"/><rect x="78" y="417" width="778" height="1" fill-opacity="0.0556"/><rect x="79" y="417" width="776" height="1"/>
<rect x="79" y="31" width="776" height="1" fill-opacity="0.0556"/><rect x="79" y="33" width="776" height="1" fill-opacity="0.0556"/><rect x="78" y="32" width="778" height="1" fill-opacity="0.0556"/><rect x="79" y="32" width="776" height="1"/>
</g>
<path d="M695.28 85.5H844.72Q847.5 85.5 847.5 82.72V42.28Q847.5 39.5 844.72 39.5H695.28Q692.5 39.5 692.5 42.28V82.72Q692.5 85.5 695.28 85.5Z" fill="#fff" fill-opacity="0.8"/>
<g fill="#ccc">
<rect x="696" y="38" width="148" height="1" fill-opacity="0.1556"/><rect x="696" y="40" width="148" height="1" fill-opacity="0.1556"/><rect x="696" y="39" width="148" height="1" fill-opacity="0.8"/>
<rect x="696" y="84" width="148" height="1" fill-opacity="0.1556"/><rect x="696" y="86" width="148" height="1" fill-opacity="0.1556"/><rect x="696" y="85" width="148" height="1" fill-opacity="0.8"/>
<rect x="691" y="43" width="1" height="39" fill-opacity="0.1556"/><rect x="693" y="43" width="1" height="39" fill-opacity="0.1556"/><rect x="692" y="43" width="1" height="39" fill-opacity="0.8"/>
<rect x="846" y="43" width="1" height="39" fill-opacity="0.1556"/><rect x="848" y="43" width="1" height="39" fill-opacity="0.1556"/><rect x="847" y="43" width="1" height="39" fill-opacity="0.8"/>
</g>
<path d="M692.5 43V42.28Q692.5 39.5 695.28 39.5H696M844 39.5H844.72Q847.5 39.5 847.5 42.28V43M847.5 82V82.72Q847.5 85.5 844.72 85.5H844M696 85.5H695.28Q692.5 85.5 692.5 82.72V82" fill="none" stroke="#ccc" stroke-opacity="0.8" stroke-width="1.389"/>
<g fill="#1f77b4"><rect x="696.958" y="48" width="29.084" height="1" fill-opacity="0.0417"/><rect x="696.958" y="51" width="29.084" height="1" fill-opacity="0.0417"/><rect x="696.958" y="49" width="29.084" height="2"/></g>
<g fill="#ff7f0e"><rect x="696.958" y="69" width="29.084" height="1" fill-opacity="0.0417"/><rect x="696.958" y="72" width="29.084" height="1" fill-opacity="0.0417"/><rect x="696.958" y="70" width="29.084" height="2"/></g>
<text transform="translate(291 24) scale(1 1.04)" font-size="16.667" x="0 9.5 14.125 24.625 33.75 40.25 50.75 61 67.5 72 82.5 93 98.25 111.125 122.625 127.875 138 148.25 152.75 159.25 169.375 179.875 190.125 195.375 201.25 207.75 217.875 234.125 239.375 248.875 259 272.625 283 289.75 295 305.5 316 326.5 337 341.75" y="0">Fluctuating DC Voltage from Power Supply</text>
<text transform="translate(416 458)" font-size="13.889" x="0 7.875 12 25.5 34 38.375 43.625 57.125 61.25 68.875 74.125 82.875 87.25 94.375" y="0">Time [micro s]</text>
<text transform="translate(20 264) rotate(-90)" font-size="13.889" x="0 8.375 16.875 20.75 26.25 35 43.75 52.25 56.75 62.25 71.75" y="0">Voltage [V]</text>
<text transform="translate(111 438)" font-size="13.889" x="0" y="0">0</text>
<text transform="translate(234 438)" font-size="13.889" x="-1 7.75 16.5 25.25 34" y="0">20000</text>
<text transform="translate(375 438)" font-size="13.889" x="0 7.75 16.5 25.25 34" y="0">40000</text>
<text transform="translate(516 438)" font-size="13.889" x="-1 7.625 16.375 25.125 33.875" y="0">60000</text>
<text transform="translate(657 438)" font-size="13.889" x="-1 7.625 16.375 25.125 33.875" y="0">80000</text>
<text transform="translate(794 438)" font-size="13.889" x="-1 6.625 15.375 24.125 32.875 41.625" y="0">100000</text>
<text transform="translate(39 405)" font-size="13.889" x="0 7.625 12.25 21" y="0">9.00</text>
<text transform="translate(39 362)" font-size="13.889" x="0 7.625 12.25 21" y="0">9.25</text>
<text transform="translate(39 318)" font-size="13.889" x="0 7.625 12.25 21" y="0">9.50</text>
<text transform="translate(39 274)" font-size="13.889" x="0 7.625 12.25 21" y="0">9.75</text>
<text transform="translate(31 230)" font-size="13.889" x="-1 6.625 15.375 20 28.75" y="0">10.00</text>
<text transform="translate(31 187)" font-size="13.889" x="-1 6.625 15.375 20 28.75" y="0">10.25</text>
<text transform="translate(31 143)" font-size="13.889" x="-1 6.625 15.375 20 28.75" y="0">10.50</text>
<text transform="translate(31 99)" font-size="13.889" x="-1 6.625 15.375 20 28.75" y="0">10.75</text>
<text transform="translate(31 55)" font-size="13.889" x="-1 6.875 15.75 19.875 28.625" y="0">11.00</text>
<text transform="translate(737 56)" font-size="13.889" x="0 4 12.75 21.375 30.375 35.875 40.25 48.375 56.875 61 66.5 74.875 84" y="0">Input Voltage</text>
<text transform="translate(737 77)" font-size="13.889" x="0 10.625 19.625 25.125 34 42.75 48.25 52.375 61 69.5 73.375 78.875 87.5 96.125" y="0">Output Voltage</text>
</svg>
</body>
</html>
